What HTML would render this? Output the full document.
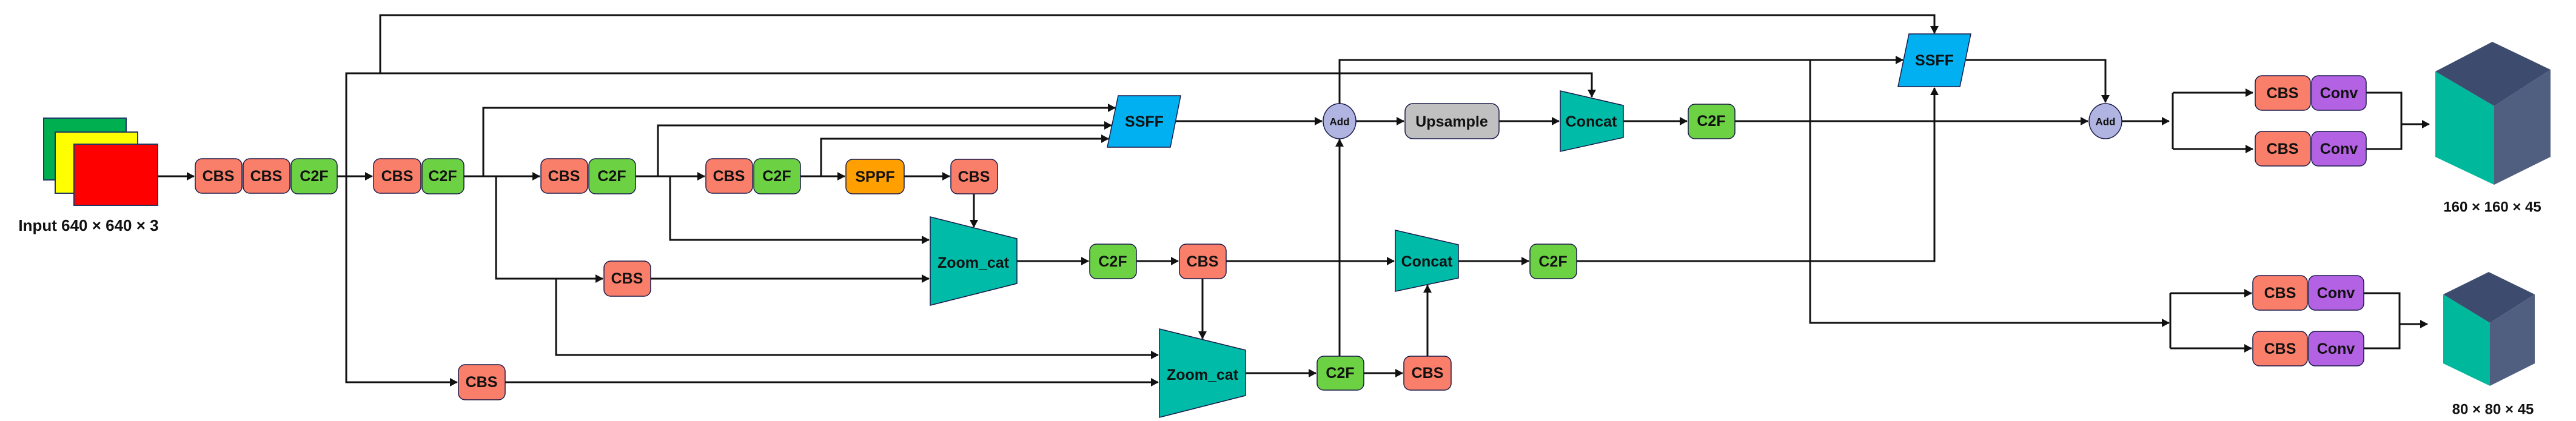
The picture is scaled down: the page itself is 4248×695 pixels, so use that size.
<!DOCTYPE html>
<html><head><meta charset="utf-8"><style>
html,body{margin:0;padding:0;background:#fff;}
svg{display:block;}
text{font-family:"Liberation Sans","DejaVu Sans",sans-serif;font-weight:bold;fill:#111;}
</style></head><body>
<svg width="4248" height="695" viewBox="0 0 4248 695" xmlns="http://www.w3.org/2000/svg">
<defs>
<marker id="a" markerWidth="14" markerHeight="14" refX="12" refY="7" orient="auto" markerUnits="userSpaceOnUse">
<path d="M0,0 L13,7 L0,14 z" fill="#111"/></marker>
</defs>
<g fill="none" stroke="#111" stroke-width="3">
<path d="M260,291 H320" marker-end="url(#a)"/>
<path d="M556,291 H614" marker-end="url(#a)"/>
<path d="M571,291 V121 H2625 V160" marker-end="url(#a)"/>
<path d="M571,291 V631 H754" marker-end="url(#a)"/>
<path d="M627,121 V25 H3190 V55" marker-end="url(#a)"/>
<path d="M765,291 H890" marker-end="url(#a)"/>
<path d="M797,291 V178 H1839" marker-end="url(#a)"/>
<path d="M818,291 V460 H994" marker-end="url(#a)"/>
<path d="M917,460 V586 H1910" marker-end="url(#a)"/>
<path d="M1048,291 H1162" marker-end="url(#a)"/>
<path d="M1085,291 V207 H1833" marker-end="url(#a)"/>
<path d="M1105,291 V396 H1532" marker-end="url(#a)"/>
<path d="M1320,291 H1393" marker-end="url(#a)"/>
<path d="M1354,291 V229 H1828" marker-end="url(#a)"/>
<path d="M1491,291 H1566" marker-end="url(#a)"/>
<path d="M1606,320 V375" marker-end="url(#a)"/>
<path d="M1073,460 H1532" marker-end="url(#a)"/>
<path d="M1677,431 H1795" marker-end="url(#a)"/>
<path d="M1874,431 H1943" marker-end="url(#a)"/>
<path d="M2022,431 H2299" marker-end="url(#a)"/>
<path d="M1983,460 V559" marker-end="url(#a)"/>
<path d="M833,631 H1910" marker-end="url(#a)"/>
<path d="M2054,616 H2170" marker-end="url(#a)"/>
<path d="M2249,616 H2313" marker-end="url(#a)"/>
<path d="M2354,588 V471" marker-end="url(#a)"/>
<path d="M2209,588 V230" marker-end="url(#a)"/>
<path d="M2209,171 V99 H3138" marker-end="url(#a)"/>
<path d="M1939,200 H2180" marker-end="url(#a)"/>
<path d="M2236,200 H2315" marker-end="url(#a)"/>
<path d="M2472,200 H2571" marker-end="url(#a)"/>
<path d="M2677,200 H2782" marker-end="url(#a)"/>
<path d="M2861,200 H3443" marker-end="url(#a)"/>
<path d="M2405,431 H2521" marker-end="url(#a)"/>
<path d="M2600,431 H3190 V145" marker-end="url(#a)"/>
<path d="M2985,99 V533 H3577" marker-end="url(#a)"/>
<path d="M3241,99 H3472 V169" marker-end="url(#a)"/>
<path d="M3499,200 H3577" marker-end="url(#a)"/>
<path d="M3583,153 V246"/>
<path d="M3583,153 H3715" marker-end="url(#a)"/>
<path d="M3583,246 H3715" marker-end="url(#a)"/>
<path d="M3902,153 H3960 V246 H3902"/>
<path d="M3960,205 H4006" marker-end="url(#a)"/>
<path d="M3579,484 V575"/>
<path d="M3579,484 H3713" marker-end="url(#a)"/>
<path d="M3579,575 H3713" marker-end="url(#a)"/>
<path d="M3898,484 H3957 V575 H3898"/>
<path d="M3957,535 H4003" marker-end="url(#a)"/>
</g>
<!-- input stack -->
<rect x="72" y="195" width="136" height="102" fill="#00b050" stroke="#1f3864" stroke-width="2"/>
<rect x="91" y="218" width="136" height="101" fill="#ffff00" stroke="#1f3864" stroke-width="2"/>
<rect x="122" y="238" width="138" height="101" fill="#ff0000" stroke="#1f3864" stroke-width="2"/>
<text x="146" y="372" font-size="26" text-anchor="middle" dominant-baseline="central">Input 640 × 640 × 3</text>
<g stroke="#1a1a4a" stroke-width="1.5" font-size="26">
<!-- CBS -->
<g fill="#fa7f6a">
<rect x="322" y="262" width="77" height="57" rx="11"/>
<rect x="401" y="262" width="77" height="57" rx="11"/>
<rect x="616" y="262" width="78" height="57" rx="11"/>
<rect x="892" y="262" width="77" height="57" rx="11"/>
<rect x="1164" y="262" width="77" height="57" rx="11"/>
<rect x="1568" y="263" width="77" height="57" rx="11"/>
<rect x="996" y="431" width="77" height="58" rx="11"/>
<rect x="756" y="602" width="77" height="58" rx="11"/>
<rect x="1945" y="403" width="77" height="57" rx="11"/>
<rect x="2315" y="588" width="78" height="56" rx="11"/>
<rect x="3719" y="125" width="91" height="57" rx="11"/>
<rect x="3719" y="217" width="91" height="57" rx="11"/>
<rect x="3715" y="455" width="90" height="57" rx="11"/>
<rect x="3715" y="547" width="90" height="57" rx="11"/>
</g>
<g fill="#6dd144">
<rect x="480" y="262" width="76" height="58" rx="11"/>
<rect x="696" y="262" width="69" height="58" rx="11"/>
<rect x="971" y="262" width="77" height="58" rx="11"/>
<rect x="1243" y="262" width="77" height="58" rx="11"/>
<rect x="1797" y="403" width="77" height="57" rx="11"/>
<rect x="2172" y="588" width="77" height="56" rx="11"/>
<rect x="2784" y="172" width="77" height="57" rx="11"/>
<rect x="2523" y="403" width="77" height="57" rx="11"/>
</g>
<rect x="1395" y="263" width="96" height="57" rx="11" fill="#ffa000"/>
<g fill="#b462e4">
<rect x="3812" y="125" width="90" height="57" rx="11"/>
<rect x="3812" y="217" width="90" height="57" rx="11"/>
<rect x="3807" y="455" width="91" height="57" rx="11"/>
<rect x="3807" y="547" width="91" height="57" rx="11"/>
</g>
<rect x="2317" y="171" width="155" height="58" rx="13" fill="#c0c0c0"/>
<ellipse cx="2209" cy="200" rx="27" ry="29" fill="#b0b4e0"/>
<ellipse cx="3472" cy="200" rx="27" ry="29" fill="#b0b4e0"/>
<polygon points="1844,158 1947,158 1930,243 1826,243" fill="#00b0f0"/>
<polygon points="3148,56 3250,56 3232,143 3130,143" fill="#00b0f0"/>
<g fill="#00bba7">
<polygon points="1534,358 1677,394 1677,468 1534,504"/>
<polygon points="1912,543 2054,578 2054,653 1912,689"/>
<polygon points="2573,150 2677,174 2677,227 2573,250"/>
<polygon points="2301,380 2405,404 2405,459 2301,481"/>
</g>
</g>
<g font-size="25" text-anchor="middle" dominant-baseline="central">
<text x="360" y="291">CBS</text><text x="439" y="291">CBS</text><text x="518" y="291">C2F</text>
<text x="655" y="291">CBS</text><text x="730" y="291">C2F</text>
<text x="930" y="291">CBS</text><text x="1009" y="291">C2F</text>
<text x="1202" y="291">CBS</text><text x="1281" y="291">C2F</text>
<text x="1443" y="292">SPPF</text><text x="1606" y="292">CBS</text>
<text x="1034" y="460">CBS</text><text x="794" y="631">CBS</text>
<text x="1835" y="432">C2F</text><text x="1983" y="432">CBS</text>
<text x="2210" y="616">C2F</text><text x="2354" y="616">CBS</text>
<text x="2822" y="200">C2F</text><text x="2561" y="432">C2F</text>
<text x="1887" y="201">SSFF</text><text x="3190" y="100">SSFF</text>
<text x="2394" y="201">Upsample</text>
<text x="2624" y="201">Concat</text><text x="2353" y="432">Concat</text>
<text x="1605" y="434">Zoom_cat</text><text x="1983" y="619">Zoom_cat</text>
<text x="3764" y="154">CBS</text><text x="3857" y="154">Conv</text>
<text x="3764" y="246">CBS</text><text x="3857" y="246">Conv</text>
<text x="3760" y="484">CBS</text><text x="3852" y="484">Conv</text>
<text x="3760" y="576">CBS</text><text x="3852" y="576">Conv</text>
<text x="2209" y="201" font-size="17">Add</text><text x="3472" y="201" font-size="17">Add</text>
</g>
<!-- cubes -->
<polygon points="4110,69 4206,115 4113,175 4016,118" fill="#3d4b6e"/>
<polygon points="4016,118 4113,175 4113,305 4016,259" fill="#00b89c"/>
<polygon points="4113,175 4206,115 4206,259 4113,305" fill="#505e80"/>
<polygon points="4104,449 4180,486 4106,533 4029,486" fill="#3d4b6e"/>
<polygon points="4029,486 4106,533 4106,637 4029,600" fill="#00b89c"/>
<polygon points="4106,533 4180,486 4180,600 4106,637" fill="#505e80"/>
<text x="4110" y="342" font-size="24" text-anchor="middle" dominant-baseline="central">160 × 160 × 45</text>
<text x="4111" y="676" font-size="24" text-anchor="middle" dominant-baseline="central">80 × 80 × 45</text>
</svg>
</body></html>
